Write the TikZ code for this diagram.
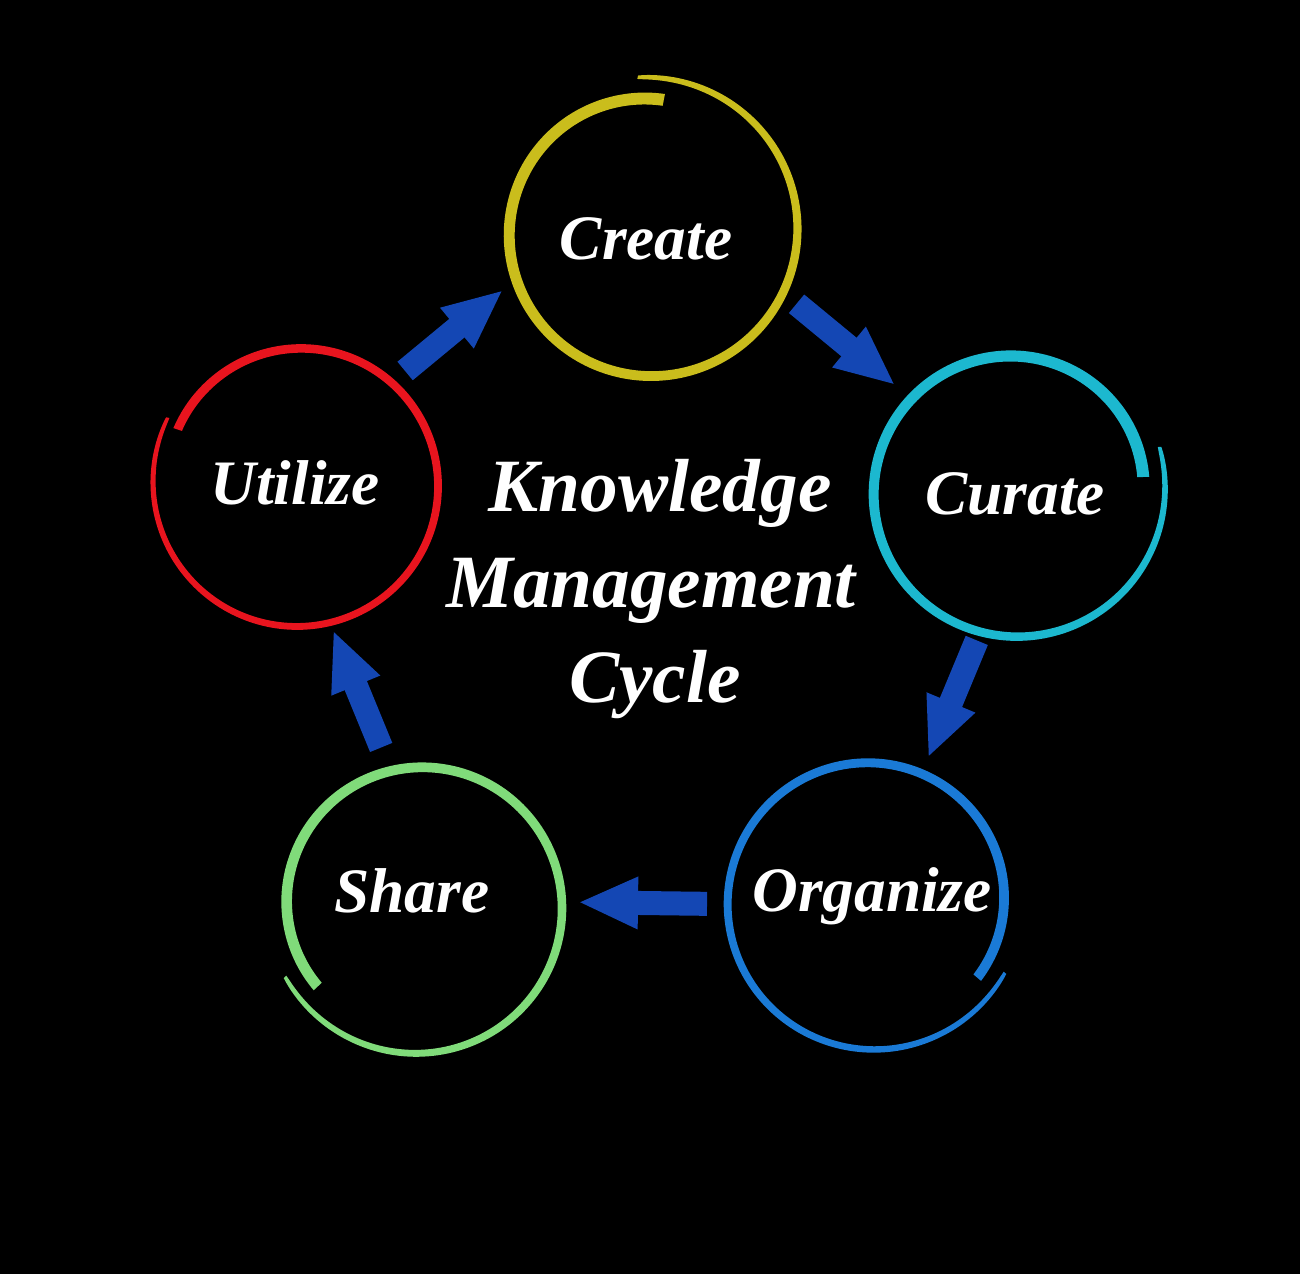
\documentclass[tikz,border=0pt]{standalone}
\usepackage{fontspec}
\usetikzlibrary{calc,arrows.meta}
\newfontfamily\labfont{Liberation Serif}
\definecolor{ringyellow}{RGB}{202,189,28}
\definecolor{ringcyan}{RGB}{28,184,207}
\definecolor{ringblue}{RGB}{26,122,214}
\definecolor{ringgreen}{RGB}{128,219,122}
\definecolor{ringred}{RGB}{232,20,30}
\definecolor{arrowblue}{RGB}{20,71,180}
% #1 node, #2 a0, #3 a1, #4 r0, #5 r1, #6 thick width, #7 thin width, #8 colour
\newcommand\spiralring[8]{%
  \fill[#8, shift={(#1)}]
    plot[domain=0:1,samples=200]
      ({(#4+(#5-#4)*\x+(#7+(#6-#7)*(1.0001-\x)^0.4)/2)*cos(#2+(#3-#2)*\x)},
       {(#4+(#5-#4)*\x+(#7+(#6-#7)*(1.0001-\x)^0.4)/2)*sin(#2+(#3-#2)*\x)})
    -- plot[domain=0:1,samples=200]
      ({(#4+(#5-#4)*(1-\x)-(#7+(#6-#7)*(\x+0.0001)^0.4)/2)*cos(#2+(#3-#2)*(1-\x))},
       {(#4+(#5-#4)*(1-\x)-(#7+(#6-#7)*(\x+0.0001)^0.4)/2)*sin(#2+(#3-#2)*(1-\x))})
    -- cycle;}
\begin{document}
\begin{tikzpicture}[x=0.01cm,y=0.01cm,
  hub/.style={circle,inner sep=0pt,minimum size=2.9cm},
  stagelabel/.style={text=white,anchor=base,inner sep=0pt,
    font=\labfont\bfseries\itshape\fontsize{18pt}{22pt}\selectfont},
  titleline/.style={text=white,anchor=base,inner sep=0pt,
    font=\labfont\bfseries\itshape\fontsize{21.4pt}{26pt}\selectfont},
  blockarrow/.style={draw=arrowblue,line width=0.24cm,
    -{Triangle[width=0.48cm,length=0.6cm]}}]
\useasboundingbox (0,0) rectangle (1300,1274);
\fill[black] (0,0) rectangle (1300,1274);

% circle hubs
\node[hub] (C)  at (648,1042) {};
\node[hub] (Cu) at (1014,783) {};
\node[hub] (O)  at (871,373) {};
\node[hub] (S)  at (419,369) {};
\node[hub] (U)  at (299,790) {};

% hand-drawn rings (thick end first)
\spiralring{C}{83}{454}{133}{155}{12}{3}{ringyellow}
\spiralring{Cu}{-354}{17}{130}{152}{12}{3}{ringcyan}
\spiralring{O}{-396}{-28}{131}{152}{10}{3}{ringblue}
\spiralring{S}{579}{208}{130}{152}{11}{3}{ringgreen}
\spiralring{U}{156}{-207}{133}{147}{9}{3}{ringred}

% labels
\node[stagelabel] (lc)  at (646,1014) {Create};
\node[stagelabel] (lcu) at (1015,759) {Curate};
\node[stagelabel] (lo)  at (872,362) {Organize};
\node[stagelabel] (ls)  at (412,361) {Share};
\node[stagelabel] (lu)  at (295,769) {Utilize};

\node[titleline] (t1) at (660,762) {Knowledge};
\node[titleline] (t2) at (651,666) {Management};
\node[titleline] (t3) at (655,571) {Cycle};

% arrows
\draw[blockarrow] ($(U)+(46.8:155)$) -- ($(C)+(201.8:156)$);
\draw[blockarrow] ($(C)+(-25.8:165)$) -- ($(Cu)+(138.3:159)$);
\draw[blockarrow] ($(Cu)+(256:154)$) -- ($(O)+(68.3:154)$);
\draw[blockarrow] ($(O)+(181:164)$) -- ($(S)+(1:159)$);
\draw[blockarrow] ($(S)+(103.5:162)$) -- ($(U)+(-76.9:150)$);
\end{tikzpicture}
\end{document}
